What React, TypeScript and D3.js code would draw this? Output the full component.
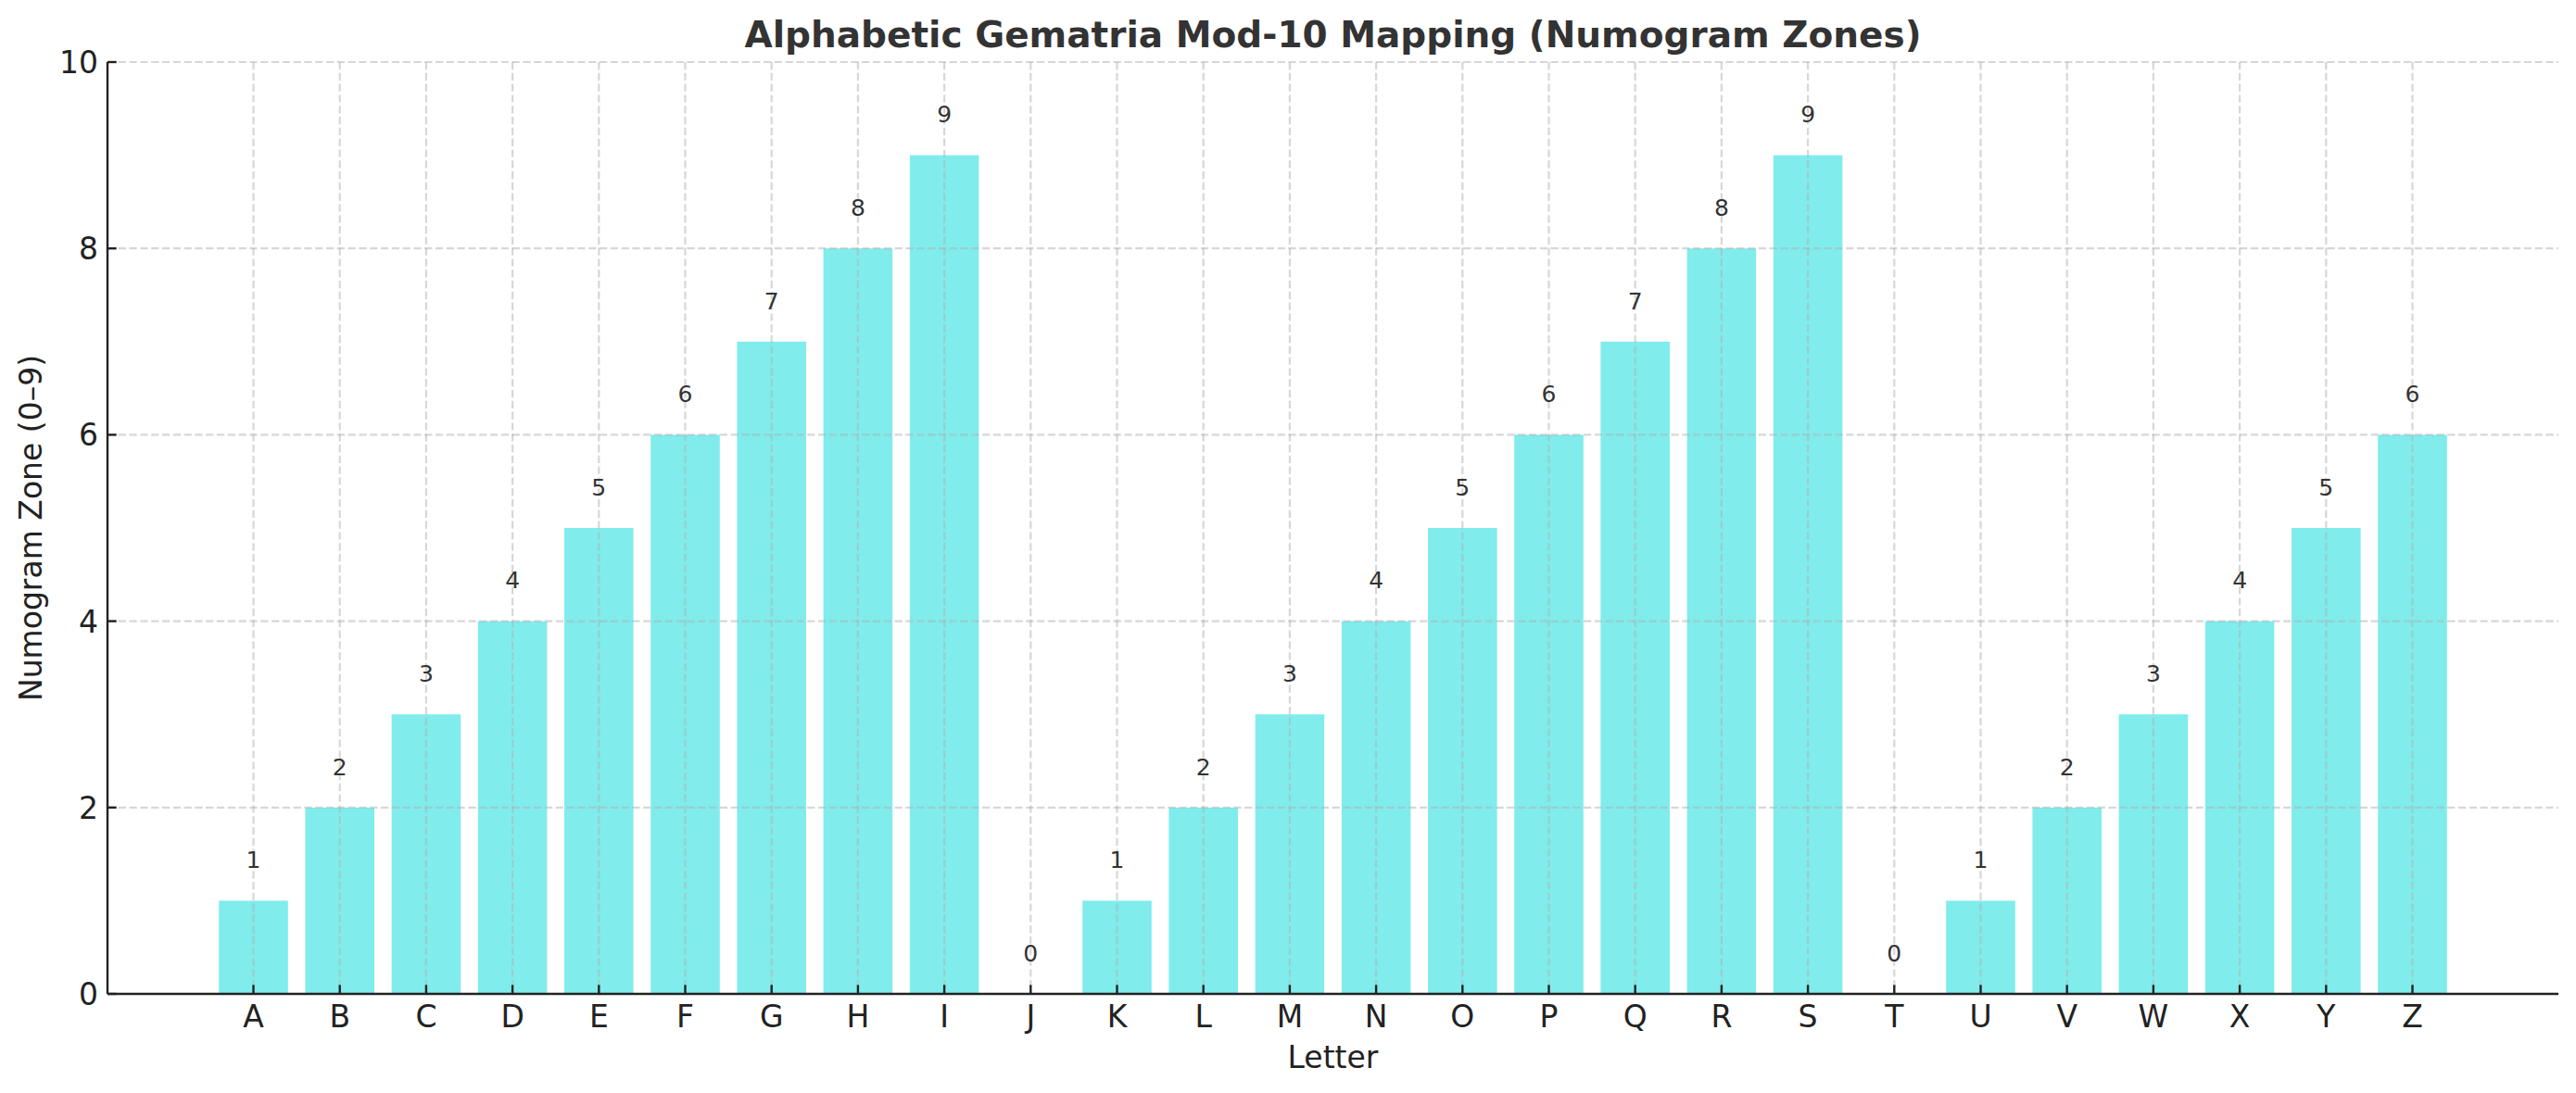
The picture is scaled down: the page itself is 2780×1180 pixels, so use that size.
import { useEffect, useRef } from 'react'
import * as d3 from 'd3'

// ─── Data ────────────────────────────────────────────────────────────────────

const letters = [
  'A', 'B', 'C', 'D', 'E', 'F', 'G', 'H', 'I', 'J', 'K', 'L', 'M',
  'N', 'O', 'P', 'Q', 'R', 'S', 'T', 'U', 'V', 'W', 'X', 'Y', 'Z',
]
const zones = [1, 2, 3, 4, 5, 6, 7, 8, 9, 0, 1, 2, 3, 4, 5, 6, 7, 8, 9, 0, 1, 2, 3, 4, 5, 6]
const yTicks = [0, 2, 4, 6, 8, 10]

const title = 'Alphabetic Gematria Mod-10 Mapping (Numogram Zones)'
const xLabel = 'Letter'
const yLabel = 'Numogram Zone (0–9)'

// ─── Theme ───────────────────────────────────────────────────────────────────

const colors = {
  bar: '#80ECEC',
  grid: '#b0b0b0',
  axis: '#222222',
  text: '#222222',
  title: '#333333',
  value: '#333333',
}
const font = '"DejaVu Sans", Verdana, sans-serif'

// ─── Chart ───────────────────────────────────────────────────────────────────

function ZoneChart() {
  const ref = useRef<SVGSVGElement>(null)

  useEffect(() => {
    if (!ref.current) return
    document.body.style.margin = '0'
    const el = ref.current
    d3.select(el).selectAll('*').remove()

    const W = 2780
    const H = 1180
    const margin = { top: 67, right: 19, bottom: 107, left: 116 }
    const inner = { w: W - margin.left - margin.right, h: H - margin.top - margin.bottom }

    const svg = d3
      .select(el)
      .attr('width', W)
      .attr('height', H)
      .attr('viewBox', `0 0 ${W} ${H}`)
      .style('font-family', font)
      .style('background', '#fff')

    const g = svg.append('g').attr('transform', `translate(${margin.left},${margin.top})`)

    // matplotlib-like: bar centres on integers, width 0.8, 5% margins
    const n = letters.length
    const pad = 0.05 * (n - 1 + 0.8)
    const xLin = d3.scaleLinear().domain([-0.4 - pad, n - 1 + 0.4 + pad]).range([0, inner.w])
    const xPos = (d: string) => xLin(letters.indexOf(d))
    const bw = xLin(0.8) - xLin(0)

    const y = d3.scaleLinear().domain([0, 10]).range([inner.h, 0])

    const data = letters.map((l, i) => ({ letter: l, zone: zones[i] }))

    // Bars
    g.selectAll('.bar')
      .data(data)
      .join('rect')
      .attr('class', 'bar')
      .attr('x', (d) => xPos(d.letter) - bw / 2)
      .attr('y', (d) => y(d.zone))
      .attr('width', bw)
      .attr('height', (d) => inner.h - y(d.zone))
      .attr('fill', colors.bar)

    // Grid (drawn above bars, like matplotlib's default zorder)
    const grid = g.append('g').attr('class', 'grid')
    grid.selectAll('.hgrid')
      .data(yTicks)
      .join('line')
      .attr('x1', 0)
      .attr('x2', inner.w)
      .attr('y1', (d) => y(d))
      .attr('y2', (d) => y(d))
    grid.selectAll('.vgrid')
      .data(letters)
      .join('line')
      .attr('x1', (d) => xPos(d))
      .attr('x2', (d) => xPos(d))
      .attr('y1', 0)
      .attr('y2', inner.h)
    grid.selectAll('line')
      .attr('stroke', colors.grid)
      .attr('stroke-opacity', 0.5)
      .attr('stroke-width', 2.2)
      .attr('stroke-dasharray', '8.2,3.6')

    // Value labels
    g.selectAll('.value')
      .data(data)
      .join('text')
      .attr('class', 'value')
      .attr('x', (d) => xPos(d.letter))
      .attr('y', (d) => y(d.zone + 0.35))
      .attr('text-anchor', 'middle')
      .attr('font-size', 25)
      .attr('fill', colors.value)
      .text((d) => `${d.zone}`)

    // X axis
    const xAxis = g.append('g').attr('transform', `translate(0,${inner.h})`)
    xAxis.append('line')
      .attr('x1', 0)
      .attr('x2', inner.w)
      .attr('stroke', colors.axis)
      .attr('stroke-width', 2.4)
    xAxis.selectAll('.xtick')
      .data(letters)
      .join('line')
      .attr('x1', (d) => xPos(d))
      .attr('x2', (d) => xPos(d))
      .attr('y1', 0)
      .attr('y2', -9.7)
      .attr('stroke', colors.axis)
      .attr('stroke-width', 2.4)
    xAxis.selectAll('.xlabel')
      .data(letters)
      .join('text')
      .attr('x', (d) => xPos(d))
      .attr('y', 36)
      .attr('text-anchor', 'middle')
      .attr('font-size', 33)
      .attr('fill', colors.text)
      .text((d) => d)

    // Y axis
    const yAxis = g.append('g')
    yAxis.append('line')
      .attr('y1', 0)
      .attr('y2', inner.h)
      .attr('stroke', colors.axis)
      .attr('stroke-width', 2.4)
    yAxis.selectAll('.ytick')
      .data(yTicks)
      .join('line')
      .attr('x1', 0)
      .attr('x2', 9.7)
      .attr('y1', (d) => y(d))
      .attr('y2', (d) => y(d))
      .attr('stroke', colors.axis)
      .attr('stroke-width', 2.4)
    yAxis.selectAll('.ylabel')
      .data(yTicks)
      .join('text')
      .attr('x', -10)
      .attr('y', (d) => y(d) + 12)
      .attr('text-anchor', 'end')
      .attr('font-size', 33)
      .attr('fill', colors.text)
      .text((d) => `${d}`)

    // Axis titles
    svg.append('text')
      .attr('x', margin.left + inner.w / 2)
      .attr('y', 1153)
      .attr('text-anchor', 'middle')
      .attr('font-size', 33)
      .attr('fill', colors.text)
      .text(xLabel)

    svg.append('text')
      .attr('transform', `translate(45,${margin.top + inner.h / 2}) rotate(-90)`)
      .attr('text-anchor', 'middle')
      .attr('font-size', 33)
      .attr('fill', colors.text)
      .text(yLabel)

    // Title
    svg.append('text')
      .attr('x', margin.left + inner.w / 2)
      .attr('y', 51)
      .attr('text-anchor', 'middle')
      .attr('font-size', 39)
      .attr('font-weight', 'bold')
      .attr('fill', colors.title)
      .text(title)
  }, [])

  return <svg ref={ref} style={{ display: 'block' }} />
}

export default function App() {
  return <ZoneChart />
}
